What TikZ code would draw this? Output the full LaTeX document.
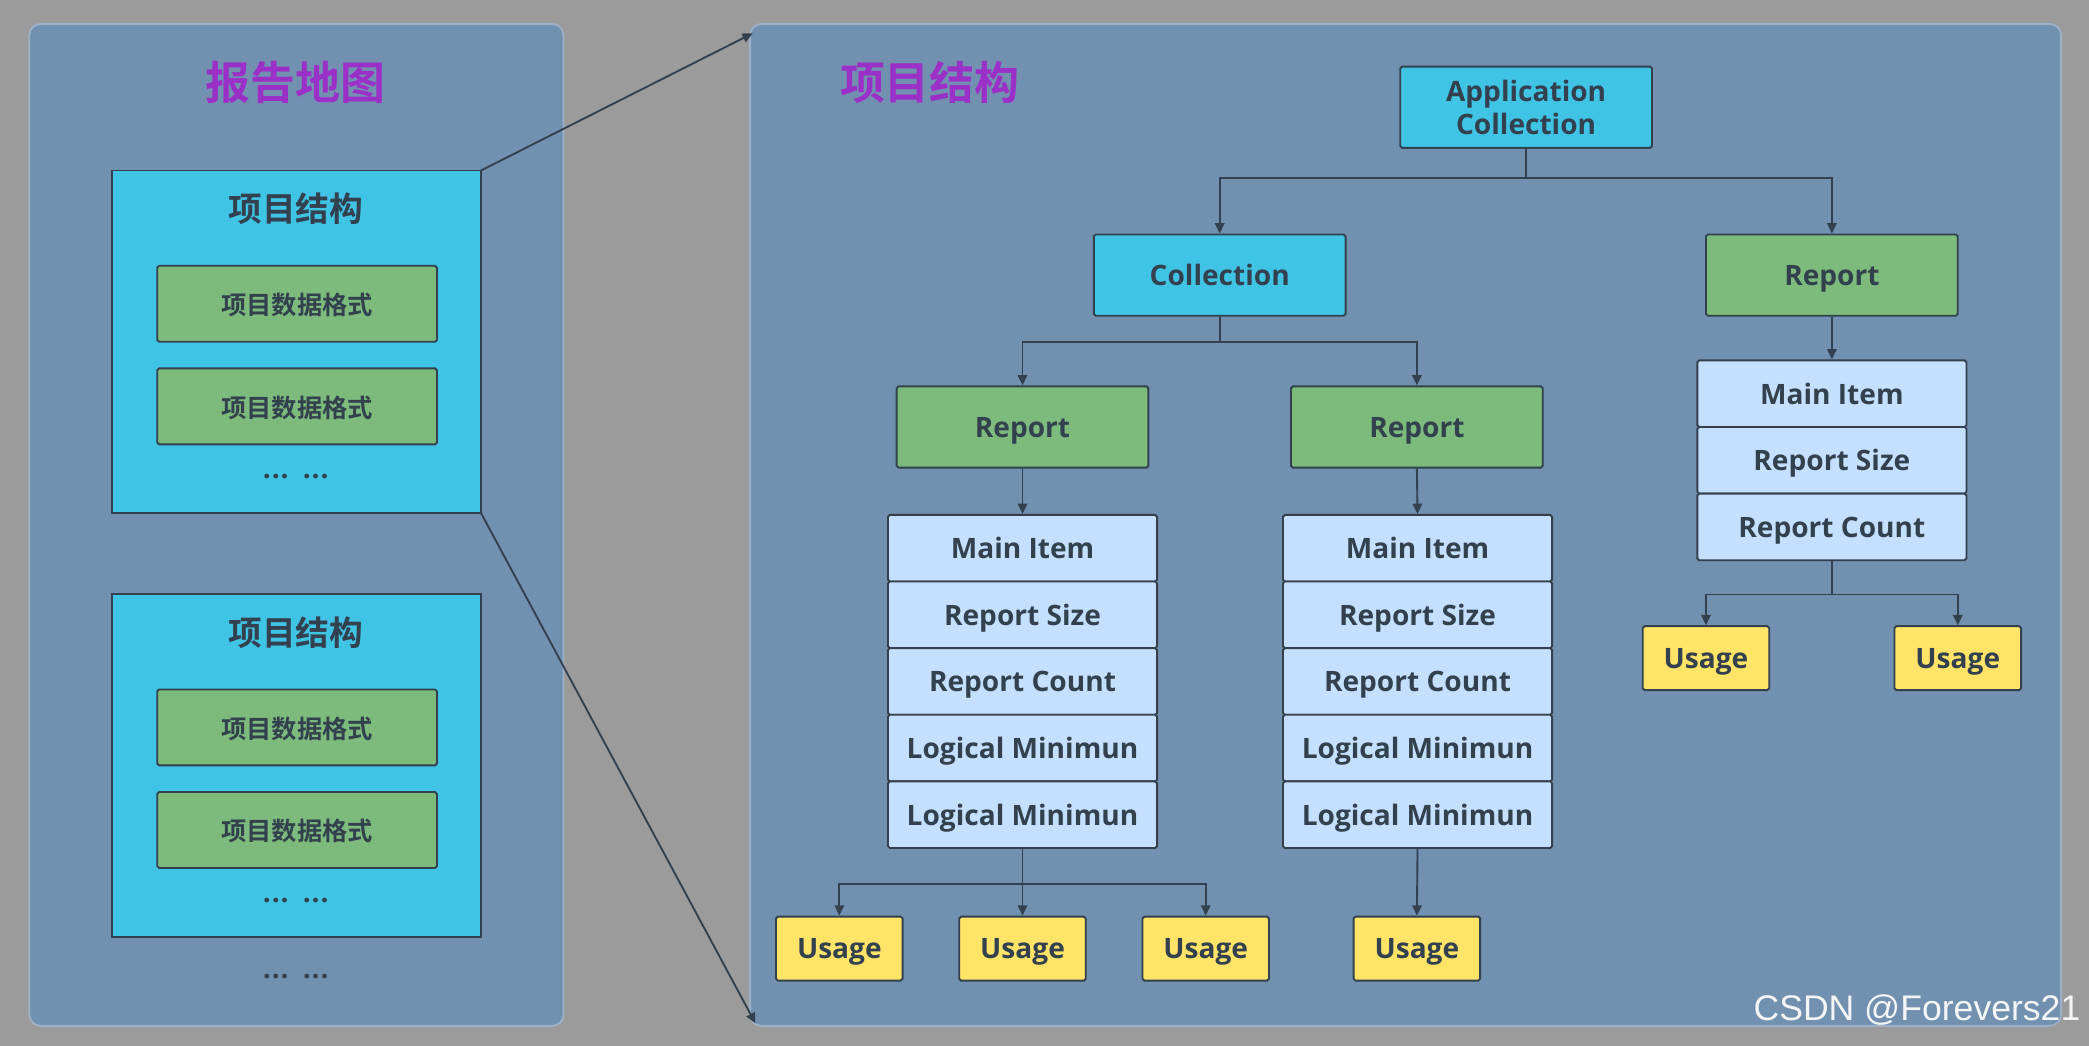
\documentclass[tikz,border=0pt]{standalone}
\usepackage{fontspec}
\setmainfont{Open Sans}
\newfontfamily\cjk{Noto Sans CJK SC Bold}
\newfontfamily\wmfont{Liberation Sans}
\usetikzlibrary{arrows.meta}
\definecolor{bggray}{HTML}{9B9B9B}
\definecolor{panel}{HTML}{7290B0}
\definecolor{cyanbox}{HTML}{40C4E6}
\definecolor{greenbox}{HTML}{7DBB7D}
\definecolor{bluebox}{HTML}{C5E0FF}
\definecolor{yellowbox}{HTML}{FFE468}
\definecolor{titlep}{HTML}{9B30C8}
\definecolor{edge}{HTML}{33414F}
\tikzset{
  box/.style={draw=edge, line width=2pt, rounded corners=2pt, font=\fontsize{30}{34}\selectfont\bfseries\color{edge}, align=center, inner sep=0pt, text depth=0pt},
  cy/.style={box, fill=cyanbox, minimum width=9.45cm, minimum height=3.05cm},
  gr/.style={box, fill=greenbox, minimum width=9.45cm, minimum height=3.05cm},
  bl/.style={box, fill=bluebox, minimum width=10.1cm, minimum height=2.5cm},
  ye/.style={box, fill=yellowbox, minimum width=4.75cm, minimum height=2.4cm},
  lg/.style={box, fill=greenbox, minimum width=10.5cm, minimum height=2.85cm, font=\cjk\fontsize{27}{30}\selectfont\color{edge}},
  arr/.style={draw=edge, line width=2pt, -{Triangle[length=11pt,width=10pt]}},
  ttl/.style={font=\cjk\fontsize{48}{52}\selectfont, text=titlep},
  sub/.style={font=\cjk\fontsize{36}{40}\selectfont, text=edge},
  dots/.style={font=\fontsize{30}{30}\selectfont\bfseries, text=edge}
}
\newcommand{\twodots}{\textbf{.\kern1pt.\kern1pt.}\hspace{0.5em}\textbf{.\kern1pt.\kern1pt.}}
\begin{document}
\begin{tikzpicture}[x=0.05cm,y=-0.05cm]
\fill[bggray] (0,0) rectangle (1568,785);
\useasboundingbox (0,0) rectangle (1568,785);
% left panel
\filldraw[fill=panel, draw=panel!70!white, line width=2pt, rounded corners=12pt] (22,18) rectangle (423,770);
\node[ttl] (lt) at (222,62) {报告地图};
\filldraw[fill=cyanbox, draw=edge, line width=2pt] (84,128) rectangle (361,385);
\filldraw[fill=cyanbox, draw=edge, line width=2pt] (84,446) rectangle (361,703);
\coordinate (c1ne) at (361,128);
\coordinate (c1se) at (361,385);
\node[sub] (s1) at (222,157) {项目结构};
\node[lg] (g1) at (223,228) {项目数据格式};
\node[lg] (g2) at (223,305) {项目数据格式};
\node[dots] (d1) at (222,358) {\twodots};
\node[sub] (s2) at (222,475) {项目结构};
\node[lg] (g3) at (223,546) {项目数据格式};
\node[lg] (g4) at (223,623) {项目数据格式};
\node[dots] (d2) at (222,676) {\twodots};
\node[dots] (d3) at (222,733) {\twodots};
% right panel
\filldraw[fill=panel, draw=panel!70!white, line width=2pt, rounded corners=12pt] (563,18) rectangle (1547,770);
\coordinate (rtop) at (565,25);
\coordinate (rbot) at (567,768);
\draw[arr] (c1ne) -- (rtop);
\draw[arr] (c1se) -- (rbot);
\node[ttl] (rt) at (698,62) {项目结构};
\node[cy] (app) at (1145.5,80.5) {Application\\[2pt]Collection};
\node[cy] (coll) at (915.5,206.5) {Collection};
\node[gr] (r3) at (1375,206.5) {Report};
\node[gr] (r1) at (767.5,320.5) {Report};
\node[gr] (r2) at (1063.5,320.5) {Report};
\foreach \n/\x in {l/767.5, m/1064} {
  \node[bl] (\n1) at (\x,411.5) {Main Item};
  \node[bl] (\n2) at (\x,461.5) {Report Size};
  \node[bl] (\n3) at (\x,511.5) {Report Count};
  \node[bl] (\n4) at (\x,561.5) {Logical Minimun};
  \node[bl] (\n5) at (\x,611.5) {Logical Minimun};
}
\node[bl] (k1) at (1375,295.5) {Main Item};
\node[bl] (k2) at (1375,345.5) {Report Size};
\node[bl] (k3) at (1375,395.5) {Report Count};
\node[ye] (u1) at (630,712) {Usage};
\node[ye] (u2) at (767.5,712) {Usage};
\node[ye] (u3) at (905,712) {Usage};
\node[ye] (u4) at (1063.5,712) {Usage};
\node[ye] (u5) at (1280.5,494) {Usage};
\node[ye] (u6) at (1469.5,494) {Usage};
% connectors
\draw[arr] (app.south) -- ++(0,22) -| (coll.north);
\draw[arr] (app.south) -- ++(0,22) -| (r3.north);
\draw[arr] (coll.south) -- ++(0,19) -| (r1.north);
\draw[arr] (coll.south) -- ++(0,19) -| (r2.north);
\draw[arr] (r1.south) -- (l1.north);
\draw[arr] (r2.south) -- (m1.north);
\draw[arr] (r3.south) -- (k1.north);
\draw[arr] (l5.south) -- ++(0,26) -| (u1.north);
\draw[arr] (l5.south) -- (u2.north);
\draw[arr] (l5.south) -- ++(0,26) -| (u3.north);
\draw[arr] (m5.south) -- (u4.north);
\draw[arr] (k3.south) -- ++(0,25) -| (u5.north);
\draw[arr] (k3.south) -- ++(0,25) -| (u6.north);
% watermark
\node[font=\wmfont\fontsize{38}{40}\selectfont, text=white!92!gray, anchor=east] (wm) at (1564,758) {CSDN @Forevers21};
\end{tikzpicture}
\end{document}
